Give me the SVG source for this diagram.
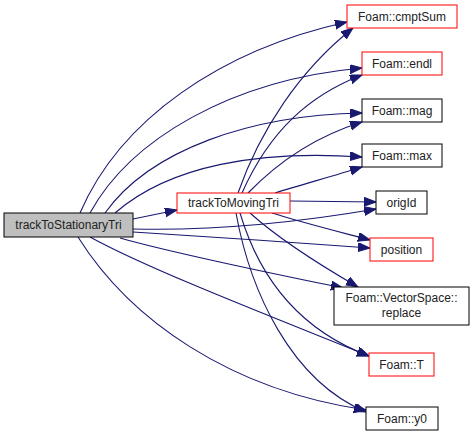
<svg xmlns="http://www.w3.org/2000/svg" width="474" height="436" viewBox="0 0 474 436">
<style>
.e{fill:none;stroke:#191970;stroke-width:1.1}
.n rect{fill:#fff;stroke:#000;stroke-width:1}
.n.r rect{stroke:#ff0000}
.n text{font-family:"Liberation Sans",Arial,sans-serif;font-size:12px;fill:#222;text-anchor:middle}
</style>
<defs>
<marker id="a" markerUnits="userSpaceOnUse" markerWidth="13" markerHeight="10" refX="12" refY="4.5" orient="auto">
<path d="M0,0 L12,4.5 L0,9 z" fill="#191970" stroke="#191970"/>
</marker>
</defs>
<rect width="474" height="436" fill="#fff"/>
<g id="edges">
<path class="e" marker-end="url(#a)" d="M133,219 L177,210"/>
<path class="e" marker-end="url(#a)" d="M80,213 C120,120 220,50 347,22"/>
<path class="e" marker-end="url(#a)" d="M90,213 C130,140 230,80 362,68"/>
<path class="e" marker-end="url(#a)" d="M105,213 C150,150 250,115 362,113"/>
<path class="e" marker-end="url(#a)" d="M115,213 C170,165 260,150 362,157"/>
<path class="e" marker-end="url(#a)" d="M133,229 C220,231 300,222 376,209"/>
<path class="e" marker-end="url(#a)" d="M133,232 C200,236 300,243 370,248"/>
<path class="e" marker-end="url(#a)" d="M120,238 C180,255 280,275 343,288"/>
<path class="e" marker-end="url(#a)" d="M90,237 C150,270 280,320 369,356"/>
<path class="e" marker-end="url(#a)" d="M78,237 C130,320 230,390 366,410"/>
<path class="e" marker-end="url(#a)" d="M238,193 C260,130 300,70 353,28"/>
<path class="e" marker-end="url(#a)" d="M242,193 C270,130 310,95 362,75"/>
<path class="e" marker-end="url(#a)" d="M248,193 C280,160 320,135 362,122"/>
<path class="e" marker-end="url(#a)" d="M275,193 C300,185 330,177 362,167"/>
<path class="e" marker-end="url(#a)" d="M290,201 L376,202"/>
<path class="e" marker-end="url(#a)" d="M272,213 C300,222 340,232 370,240"/>
<path class="e" marker-end="url(#a)" d="M250,213 C280,240 320,265 358,287"/>
<path class="e" marker-end="url(#a)" d="M240,213 C260,280 300,330 369,356"/>
<path class="e" marker-end="url(#a)" d="M236,213 C250,290 290,380 366,412"/>
</g>
<g id="trackToStationaryTri" class="n"><rect x="4" y="213" width="129" height="24" style="fill:#bfbfbf"/><text x="68.5" y="229">trackToStationaryTri</text></g>
<g id="trackToMovingTri" class="n r"><rect x="177" y="193" width="113" height="20"/><text x="233.5" y="207">trackToMovingTri</text></g>
<g id="cmptSum" class="n r"><rect x="347" y="5" width="110" height="23"/><text x="402" y="21">Foam::cmptSum</text></g>
<g id="endl" class="n r"><rect x="362" y="52" width="80" height="23"/><text x="402" y="68">Foam::endl</text></g>
<g id="mag" class="n"><rect x="362" y="99" width="80" height="23"/><text x="402" y="115">Foam::mag</text></g>
<g id="max" class="n"><rect x="362" y="144" width="80" height="23"/><text x="402" y="160">Foam::max</text></g>
<g id="origId" class="n"><rect x="376" y="191" width="51" height="23"/><text x="401.5" y="207">origId</text></g>
<g id="position" class="n r"><rect x="370" y="238" width="63" height="23"/><text x="401.5" y="254">position</text></g>
<g id="replace" class="n"><rect x="334" y="287" width="135" height="38"/><text x="401.5" y="302">Foam::VectorSpace::</text><text x="401.5" y="317">replace</text></g>
<g id="T" class="n r"><rect x="369" y="353" width="65" height="23"/><text x="401.5" y="369">Foam::T</text></g>
<g id="y0" class="n"><rect x="366" y="407" width="72" height="23"/><text x="402" y="423">Foam::y0</text></g>
</svg>
